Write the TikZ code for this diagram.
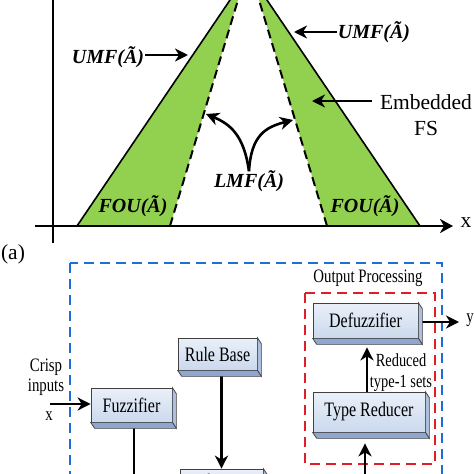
\documentclass[tikz,border=0pt]{standalone}
\usepackage{fontspec}
\setmainfont{Liberation Serif}
\newfontfamily\narrowserif[FakeStretch=0.78]{Liberation Serif}
\usetikzlibrary{arrows.meta,calc}

\definecolor{fougreen}{RGB}{146,208,80}
\definecolor{boxtop}{RGB}{234,240,249}
\definecolor{boxbot}{RGB}{203,217,237}
\definecolor{boxside}{RGB}{172,191,222}
\definecolor{boxunder}{RGB}{143,167,206}
\definecolor{frameblue}{RGB}{30,110,215}
\definecolor{framered}{RGB}{225,30,40}

\tikzset{
    flow/.style={-{Stealth[length=13pt,width=13pt,inset=4pt]}, line width=2.6pt},
    umf/.style={line width=1.6pt},
    lmf/.style={line width=2pt, dash pattern=on 9pt off 5pt},
    fslabel/.style={font=\fontsize{20}{22}\selectfont\bfseries\itshape, inner sep=1pt},
    plainlabel/.style={font=\fontsize{21.5}{26}\selectfont, inner sep=1pt},
    blockbox/.style={draw=black!75, line width=0.7pt, top color=boxtop, bottom color=boxbot,
        font=\fontsize{20.5}{22}\narrowserif, inner sep=0pt},
    sidelabel/.style={font=\fontsize{19}{20}\narrowserif, align=center, inner sep=1pt},
    frame/.style={line width=1.8pt, dash pattern=on 10pt off 6pt}
}

% side and bottom faces of a block
\newcommand{\extrude}[1]{%
    \filldraw[fill=boxside, draw=black!75, line width=0.7pt] (#1.north east) -- ++(4,6) -- ($(#1.south east)+(4,6)$) -- (#1.south east) -- cycle;
    \filldraw[fill=boxunder, draw=black!75, line width=0.7pt] (#1.south west) -- ++(4,6) -- ($(#1.south east)+(4,6)$) -- (#1.south east) -- cycle;
}

\begin{document}
\begin{tikzpicture}[x=1pt,y=-1pt]
    \useasboundingbox (0,0) rectangle (474,474);
    \clip (0,0) rectangle (474,474);

    % draw the footprint of uncertainty
    \fill[fougreen] (77,226) -- (236.8,-10) -- (241,-10) -- (170,226) -- cycle;
    \fill[fougreen] (327,226) -- (256,-10) -- (260.2,-10) -- (420,226) -- cycle;

    % draw upper and lower membership functions
    \draw[umf] (77,226) -- (236.8,-10);
    \draw[umf] (420,226) -- (260.2,-10);
    \draw[lmf] (170,226) -- (241,-10);
    \draw[lmf] (327,226) -- (256,-10);

    % draw the axes
    \draw[line width=2.6pt, -{Stealth[length=13pt,width=14pt,inset=4pt]}] (35,226) -- (453,226);
    \draw[line width=2.6pt] (53,-5) -- (53,243);
    \draw[white, line width=0.8pt, dash pattern=on 7pt off 3pt] (174,224.5) -- (324,224.5);
    \node[plainlabel] (xaxis) at (466,223) {x};
    \node[plainlabel] (parta) at (13,254) {(a)};

    % labels of the type-2 set
    \node[fslabel] (umfleft) at (108,57) {UMF(Ã)};
    \node[fslabel] (umfright) at (374,32) {UMF(Ã)};
    \node[plainlabel, align=center] (embed) at (426,115) {Embedded\\FS};
    \node[fslabel] (lmflabel) at (249,181) {LMF(Ã)};
    \node[fslabel] (fouleft) at (133,206) {FOU(Ã)};
    \node[fslabel] (fouright) at (365,206) {FOU(Ã)};

    \coordinate (umflefttip) at (188,55);
    \coordinate (umfrighttip) at (294,32);
    \coordinate (embedtip) at (312,101);
    \coordinate (lmflefttip) at (206,114);
    \coordinate (lmfrighttip) at (293,120);

    % draw arrows to the curves
    \draw[flow] (umfleft.east |- umflefttip) -- (umflefttip);
    \draw[flow] (umfright.west |- umfrighttip) -- (umfrighttip);
    \draw[flow] ([xshift=-7pt]embed.west |- embedtip) -- (embedtip);
    \draw[flow] ([yshift=-2pt]lmflabel.north) .. controls (244,135) and (230,124) .. (lmflefttip);
    \draw[flow] ([yshift=-2pt]lmflabel.north) .. controls (251,135) and (266,127) .. (lmfrighttip);

    % draw the dashed frames
    \draw[frameblue, frame] (70,263) rectangle (442,495);
    \draw[framered, frame] (305,293) rectangle (435,464);
    \node[sidelabel] (outproc) at (368,278) {Output Processing};

    % draw the blocks
    \node[blockbox, minimum width=105pt, minimum height=35pt] (defuzz) at (365.5,320.5) {Defuzzifier};
    \node[blockbox, minimum width=112pt, minimum height=40pt] (typered) at (369,412) {Type Reducer};
    \node[blockbox, minimum width=79pt, minimum height=32pt] (rulebase) at (217.5,354) {Rule Base};
    \node[blockbox, minimum width=81pt, minimum height=34pt] (fuzz) at (131.5,405) {Fuzzifier};
    \node[blockbox, minimum width=83pt, minimum height=24pt] (infer) at (221.5,481) {Inference};

    % side labels
    \node[sidelabel] (crisp) at (46,377) {Crisp\\inputs};
    \node[sidelabel] (xin) at (49,416) {x};
    \node[sidelabel] (yout) at (470,320) {y};
    \node[sidelabel, font=\fontsize{18.5}{21}\narrowserif] (reduced) at (401,373) {Reduced\\type-1 sets};

    \coordinate (xstart) at (50,404);
    \coordinate (ytip) at (459,322);
    \coordinate (fuzzout) at (134,490);
    \coordinate (trin) at (365,490);

    % draw the connectors
    \draw[flow] (xstart) -- (fuzz.west |- xstart);
    \draw[flow] (defuzz.east |- ytip) -- (ytip);
    \draw[flow] (infer.north |- rulebase.south) -- (infer.north);
    \draw[line width=2.6pt] (fuzz.south -| fuzzout) -- (fuzzout);
    \draw[flow] (trin) -- ([yshift=-11pt]typered.south -| trin);
    \draw[flow] ([xshift=-2pt]typered.north) -- ([xshift=-2pt,yshift=-9pt]typered.north |- defuzz.south);

    \extrude{defuzz}
    \extrude{typered}
    \extrude{rulebase}
    \extrude{fuzz}
    \extrude{infer}
\end{tikzpicture}
\end{document}
